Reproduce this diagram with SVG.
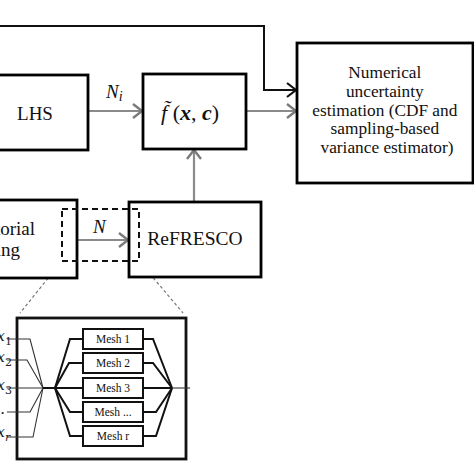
<svg xmlns="http://www.w3.org/2000/svg" width="474" height="474" viewBox="0 0 474 474">
<defs>
<style>
.box{fill:#fff;stroke:#000;stroke-width:2.8}
.t{font-family:"Liberation Serif","Times New Roman",serif;fill:#111}
.blk{fill:none;stroke:#111;stroke-width:2}
.gry{fill:none;stroke:#8a8a8a;stroke-width:2.2}
.thin{fill:none;stroke:#333;stroke-width:1.1}
.fan{fill:none;stroke:#111;stroke-width:2}
.mesh{fill:#fff;stroke:#111;stroke-width:2}
.mt{font-family:"Liberation Serif","Times New Roman",serif;fill:#111;font-size:11.5px;text-anchor:middle}
</style>
<marker id="ab" markerUnits="userSpaceOnUse" markerWidth="14" markerHeight="16" refX="11" refY="8" orient="auto" viewBox="0 0 14 16">
<path d="M2,1 L11,8 L2,15" fill="none" stroke="#111" stroke-width="2.2"/>
</marker>
<marker id="ag" markerUnits="userSpaceOnUse" markerWidth="14" markerHeight="16" refX="11" refY="8" orient="auto" viewBox="0 0 14 16">
<path d="M2,1 L11,8 L2,15" fill="none" stroke="#7a7a7a" stroke-width="2.4"/>
</marker>
</defs>
<rect width="474" height="474" fill="#fff"/>

<g id="connectors">
<polyline class="blk" points="0,26 264,26 264,90 296,90" marker-end="url(#ab)"/>
<line class="gry" x1="88" y1="111" x2="142" y2="111" marker-end="url(#ag)"/>
<line class="gry" x1="246" y1="111" x2="296" y2="111" marker-end="url(#ag)"/>
<line class="gry" x1="194" y1="202" x2="194" y2="150" marker-end="url(#ag)"/>
<line class="gry" x1="77" y1="240" x2="128" y2="240" marker-end="url(#ag)"/>
<line x1="62" y1="261" x2="20" y2="313" stroke="#777" stroke-width="1.2" stroke-dasharray="3,2.5"/>
<line x1="139" y1="261" x2="183" y2="313" stroke="#777" stroke-width="1.2" stroke-dasharray="3,2.5"/>
</g>

<g id="lhs">
<rect class="box" x="-5" y="75" width="93" height="75"/>
<text class="t" x="35" y="120" font-size="19" text-anchor="middle">LHS</text>
</g>

<g id="fxc">
<rect class="box" x="143" y="74" width="103" height="75"/>
<text class="t" x="161" y="120" font-size="22"><tspan font-style="italic">f̃</tspan> (<tspan font-style="italic" font-weight="bold">x</tspan>, <tspan font-style="italic" font-weight="bold">c</tspan>)</text>
</g>

<g id="ni-label">
<text class="t" x="106" y="98" font-size="19" font-style="italic">N<tspan font-size="14" dy="3">i</tspan></text>
</g>

<g id="numerical">
<rect class="box" x="297" y="43" width="176" height="140"/>
<text class="t" font-size="17.3" text-anchor="middle">
<tspan x="387" y="78">Numerical</tspan>
<tspan x="387" y="97">uncertainty</tspan>
<tspan x="387" y="116">estimation (CDF and</tspan>
<tspan x="387" y="134">sampling-based</tspan>
<tspan x="387" y="153">variance estimator)</tspan>
</text>
</g>

<g id="factorial">
<rect class="box" x="-5" y="200" width="82" height="78"/>
<text class="t" x="35" y="235" font-size="19" text-anchor="end">Factorial</text>
<text class="t" x="20" y="256" font-size="19" text-anchor="end">sampling</text>
</g>

<g id="refresco">
<rect class="box" x="129" y="202" width="132" height="75"/>
<text class="t" x="195" y="245" font-size="19.5" text-anchor="middle">ReFRESCO</text>
</g>

<g id="n-label">
<text class="t" x="93" y="233" font-size="19" font-style="italic">N</text>
</g>

<g id="zoom-frame">
<rect x="62" y="209" width="77" height="52" fill="none" stroke="#111" stroke-width="2" stroke-dasharray="6,4"/>
</g>

<g id="detail">
<rect x="17" y="318" width="169" height="141" fill="#fff" stroke="#111" stroke-width="2.8"/>
<polyline class="thin" points="7,339 30,339 43,388"/>
<polyline class="thin" points="7,360 27,360 43,388"/>
<polyline class="thin" points="7,388 43,388"/>
<polyline class="thin" points="7,412 30,412 43,388"/>
<polyline class="thin" points="7,437 33,437 43,388"/>
<line class="fan" x1="43" y1="388" x2="55" y2="388"/>
<polyline class="fan" points="55,388 70,339 83,339"/>
<polyline class="fan" points="55,388 69,363 83,363"/>
<polyline class="fan" points="55,388 83,388"/>
<polyline class="fan" points="55,388 70,412 83,412"/>
<polyline class="fan" points="55,388 70,436 83,436"/>
<polyline class="fan" points="143,339 153,339 172,388"/>
<polyline class="fan" points="143,363 153,363 172,388"/>
<polyline class="fan" points="143,388 172,388"/>
<polyline class="fan" points="143,412 156,412 172,388"/>
<polyline class="fan" points="143,436 156,436 172,388"/>
<line class="thin" x1="172" y1="388" x2="190" y2="388"/>
<g id="mesh1"><rect class="mesh" x="83" y="329" width="60" height="20"/><text class="mt" x="113" y="343">Mesh 1</text></g>
<g id="mesh2"><rect class="mesh" x="83" y="353" width="60" height="20"/><text class="mt" x="113" y="367">Mesh 2</text></g>
<g id="mesh3"><rect class="mesh" x="83" y="378" width="60" height="20"/><text class="mt" x="113" y="392">Mesh 3</text></g>
<g id="meshdots"><rect class="mesh" x="83" y="402" width="60" height="20"/><text class="mt" x="113" y="416">Mesh ...</text></g>
<g id="meshr"><rect class="mesh" x="83" y="426" width="60" height="20"/><text class="mt" x="113" y="440">Mesh r</text></g>
<g font-family="'DejaVu Serif',serif" font-size="15" fill="#222">
<text x="5" y="341" text-anchor="end" font-style="italic">x</text><text x="5" y="345" font-size="11">1</text>
<text x="5" y="362" text-anchor="end" font-style="italic">x</text><text x="5" y="366" font-size="11">2</text>
<text x="5" y="390" text-anchor="end" font-style="italic">x</text><text x="5" y="394" font-size="11">3</text>
<text x="5" y="414" text-anchor="end">...</text>
<text x="5" y="437" text-anchor="end" font-style="italic">x</text><text x="5" y="441" font-size="11" font-style="italic">r</text>
</g>
</g>
</svg>
